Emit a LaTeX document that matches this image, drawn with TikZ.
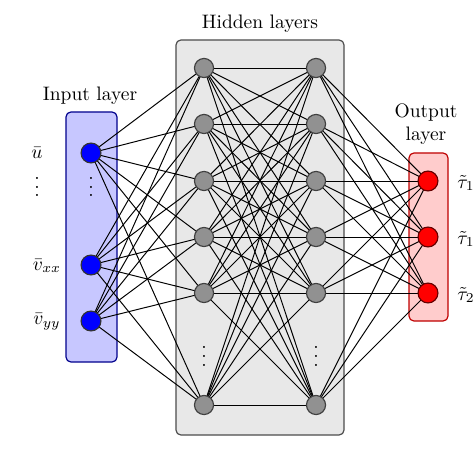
\documentclass[tikz,border=0pt]{standalone}
\newcommand{\myvdots}{\vbox{\baselineskip4.6pt\lineskiplimit0pt\hbox{.}\hbox{.}\hbox{.}}}
\begin{document}
\begin{tikzpicture}[x=0.513pt,y=-0.513pt,
  inp/.style={circle,draw=black!80,fill=blue,minimum size=10.2pt,inner sep=0pt,line width=0.6pt},
  hid/.style={circle,draw=black!75,fill=black!43,minimum size=9.8pt,inner sep=0pt,line width=0.6pt},
  outn/.style={circle,draw=red!40!black,fill=red,minimum size=10.2pt,inner sep=0pt,line width=0.6pt},
  conn/.style={line width=0.5pt,black},
  lbl/.style={inner sep=0pt},
  dots/.style={inner sep=0pt}]
\useasboundingbox (0,0) rectangle (474,474);
% boxes
\filldraw[draw=blue!55!black,fill=blue!22,line width=0.6pt,rounded corners=2.5pt] (66,112) rectangle (117,362);
\filldraw[draw=black!70,fill=black!9,line width=0.6pt,rounded corners=2.5pt] (176,40) rectangle (344,435);
\filldraw[draw=red!75!black,fill=red!20,line width=0.6pt,rounded corners=2.5pt] (409,153) rectangle (448,321);
% titles
\node[lbl] (tin) at (90,96) {Input layer};
\node[lbl] (thid) at (260,24) {Hidden layers};
\node[lbl,align=center] (tout) at (426,124) {Output\\layer};
% node positions
\coordinate (i1) at (91,153);
\coordinate (i2) at (91,265);
\coordinate (i3) at (91,321);
\foreach \k/\y in {1/68,2/124,3/181,4/237,5/293,6/405}{
  \coordinate (a\k) at (204,\y);
  \coordinate (b\k) at (316,\y);
}
\foreach \k/\y in {1/181,2/237,3/293}{
  \coordinate (o\k) at (428,\y);
}
% connections
\foreach \i in {1,2,3}{\foreach \k in {1,...,6}{\draw[conn] (i\i) -- (a\k);}}
\foreach \j in {1,...,6}{\foreach \k in {1,...,6}{\draw[conn] (a\j) -- (b\k);}}
\foreach \j in {1,...,6}{\foreach \k in {1,2,3}{\draw[conn] (b\j) -- (o\k);}}
% nodes on top
\foreach \i in {1,2,3}{\node[inp] (ni\i) at (i\i) {};}
\foreach \k in {1,...,6}{\node[hid] (na\k) at (a\k) {}; \node[hid] (nb\k) at (b\k) {};}
\foreach \k in {1,2,3}{\node[outn] (no\k) at (o\k) {};}
% dots
\node[dots] (d1) at (91,187) {\myvdots};
\node[dots] (d2) at (204,356) {\myvdots};
\node[dots] (d3) at (316,356) {\myvdots};
% input labels
\node[lbl] (lu) at (37,153) {$\bar u$};
\node[dots] (ld) at (37,187) {\myvdots};
\node[lbl] (lxx) at (47,266) {$\bar v_{xx}$};
\node[lbl] (lyy) at (47,322) {$\bar v_{yy}$};
% output labels
\node[lbl,anchor=west] (lo1) at (457,183) {$\tilde\tau_1$};
\node[lbl,anchor=west] (lo2) at (457,239) {$\tilde\tau_1$};
\node[lbl,anchor=west] (lo3) at (457,295) {$\tilde\tau_2$};
\end{tikzpicture}
\end{document}
